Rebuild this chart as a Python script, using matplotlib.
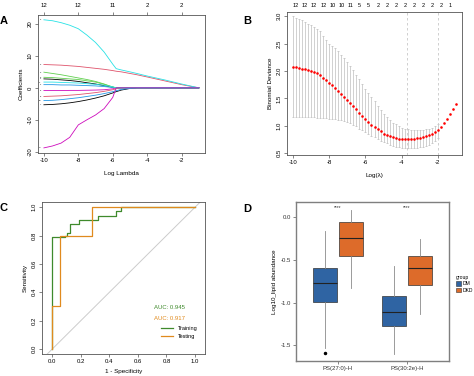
import matplotlib.pyplot as plt
import numpy as np
from matplotlib.patches import Patch

plt.rcParams['font.family'] = ['Liberation Sans', 'DejaVu Sans']
plt.rcParams['axes.unicode_minus'] = False

# ---- panel A: lasso coefficient paths ----
A_LAMBDA = [-10, -9.5, -9, -8.5, -8, -7.5, -7, -6.5, -6, -5.8, -5.5, -5, -4.6, -4, -3, -2, -1]
A_PATHS = {
    "1": [2.8, 2.7, 2.5, 2.3, 2.0, 1.6, 1.2, 0.7, 0.2, 0, 0, 0, 0, 0, 0, 0, 0],
    "2": [7.3, 7.2, 7.1, 6.9, 6.7, 6.4, 6.1, 5.8, 5.4, 5.2, 5.0, 4.5, 4.1, 3.4, 2.2, 1.0, 0.0],
    "3": [4.9, 4.5, 4.1, 3.6, 3.1, 2.6, 2.0, 1.2, 0.2, 0, 0, 0, 0, 0, 0, 0, 0],
    "4": [1.0, 1.0, 0.9, 0.9, 0.8, 0.7, 0.6, 0.4, 0.1, 0, 0, 0, 0, 0, 0, 0, 0],
    "5": [21.3, 21.0, 20.4, 19.6, 18.5, 16.5, 14.2, 11.2, 7.4, 6.0, 5.6, 5.0, 4.5, 3.7, 2.5, 1.2, 0.0],
    "6": [-0.85, -0.85, -0.85, -0.8, -0.8, -0.75, -0.7, -0.6, -0.3, 0, 0, 0, 0, 0, 0, 0, 0],
    "7": [-5.3, -5.2, -5.0, -4.7, -4.3, -3.8, -3.2, -2.5, -1.6, -1.2, -0.7, -0.2, 0, 0, 0, 0, 0],
    "8": [-2.7, -2.6, -2.5, -2.3, -2.1, -1.8, -1.5, -1.1, -0.6, -0.3, 0, 0, 0, 0, 0, 0, 0],
    "9": [3.3, 3.2, 3.0, 2.8, 2.6, 2.2, 1.8, 1.1, 0.3, 0, 0, 0, 0, 0, 0, 0, 0],
    "10": [-4.0, -3.9, -3.7, -3.4, -3.1, -2.7, -2.3, -1.8, -1.2, -0.9, -0.5, -0.15, 0, 0, 0, 0, 0],
    "11": [1.8, 1.8, 1.7, 1.6, 1.5, 1.3, 1.1, 0.8, 0.3, 0, 0, 0, 0, 0, 0, 0, 0],
    "12": [-18.8, -18.2, -17.3, -15.5, -11.6, -10.0, -8.5, -6.5, -3.0, 0, 0, 0, 0, 0, 0, 0, 0],
}
A_TOP_POS = [-10, -8, -6, -4, -2]
A_TOP_LAB = ["12", "12", "11", "2", "2"]
R_PALETTE = ["#000000", "#DF536B", "#61D04F", "#2297E6", "#28E2E5", "#CD0BBC"]

# ---- panel B: cross-validation deviance ----
B_MEAN = [2.08, 2.07, 2.05, 2.04, 2.03, 2.01, 2.00, 1.98, 1.96, 1.93, 1.88, 1.84, 1.79, 1.74,
          1.69, 1.64, 1.58, 1.53, 1.47, 1.41, 1.36, 1.30, 1.24, 1.18, 1.12, 1.07, 1.02, 0.98,
          0.94, 0.90, 0.86, 0.83, 0.81, 0.79, 0.78, 0.77, 0.765, 0.76, 0.76, 0.765, 0.77, 0.775,
          0.78, 0.795, 0.81, 0.83, 0.86, 0.89, 0.93, 0.98, 1.05, 1.13, 1.22, 1.31, 1.40]
B_UPPER = [3.00, 2.97, 2.95, 2.92, 2.89, 2.86, 2.83, 2.80, 2.77, 2.72, 2.63, 2.56, 2.50, 2.45,
           2.41, 2.36, 2.30, 2.24, 2.17, 2.09, 2.01, 1.93, 1.85, 1.76, 1.68, 1.60, 1.52, 1.45,
           1.37, 1.29, 1.22, 1.16, 1.11, 1.06, 1.03, 1.00, 0.97, 0.95, 0.94, 0.93, 0.925, 0.92,
           0.92, 0.925, 0.935, 0.95, 0.97, 1.00, 1.03, np.nan, np.nan, np.nan, np.nan, np.nan, np.nan]
B_LOWER = [1.16, 1.16, 1.16, 1.16, 1.16, 1.16, 1.16, 1.16, 1.15, 1.15, 1.14, 1.14, 1.13, 1.12,
           1.12, 1.11, 1.10, 1.09, 1.08, 1.05, 1.02, 0.99, 0.95, 0.92, 0.88, 0.85, 0.82, 0.79,
           0.76, 0.73, 0.71, 0.68, 0.66, 0.64, 0.62, 0.61, 0.60, 0.595, 0.59, 0.59, 0.59, 0.60,
           0.61, 0.62, 0.64, 0.66, 0.69, 0.73, 0.78, np.nan, np.nan, np.nan, np.nan, np.nan, np.nan]
B_LAMBDA_MIN = -3.70
B_LAMBDA_1SE = -2.0
B_TOP_LAB = ["12", "12", "12", "12", "10", "10", "11", "5", "5", "2", "2", "2", "2", "2", "2", "2", "2", "1"]

# ---- panel C: ROC ----
TRAIN_FPR = [0, 0.09, 0.10, 0.125, 0.19, 0.32, 0.45, 0.485, 1.0]
TRAIN_TPR = [0, 0.788, 0.80, 0.82, 0.88, 0.91, 0.94, 0.97, 1.0]
TEST_FPR = [0, 0.054, 0.28, 1.0]
TEST_TPR = [0, 0.30, 0.80, 1.0]
AUC_TRAIN = 0.945
AUC_TEST = 0.917

# ---- panel D: boxplots ----
FEATURES = ["PS(27:0)-H", "PS(30:2e)-H"]
GROUPS = ["DM", "DKD"]
D_Q1 = {"DM": [-0.99, -1.28], "DKD": [-0.45, -0.80]}
D_MED = {"DM": [-0.77, -1.105], "DKD": [-0.24, -0.60]}
D_Q3 = {"DM": [-0.60, -0.92], "DKD": [-0.06, -0.46]}
D_LO = {"DM": [-1.535, -1.60], "DKD": [-0.825, -1.137]}
D_HI = {"DM": [-0.16, -0.57], "DKD": [0.078, -0.258]}
D_OUT = {"DM": [[-1.594], []], "DKD": [[], []]}
D_COLORS = {"DM": "#2f64a3", "DKD": "#dd6b2a"}
D_SIG = ["****", "****"]

GREEN = "#3f8a2c"
ORANGE = "#e08a1e"

fig = plt.figure(figsize=(4.74, 3.76), dpi=100)


def rect(l, t, r, b):
    return [l / 474, 1 - b / 376, (r - l) / 474, (b - t) / 376]


def r_axes(ax):
    for s in ax.spines.values():
        s.set_color("#555555")
        s.set_linewidth(0.6)
    ax.tick_params(length=2, width=0.5, color="#555555", labelsize=4.3, pad=1.5)
    for lab in ax.get_yticklabels():
        lab.set_rotation(90)
        lab.set_va("center")


# ---------- A ----------
axA = fig.add_axes(rect(37.7, 15, 205, 153))
for i, (name, path) in enumerate(A_PATHS.items()):
    axA.plot(A_LAMBDA, path, color=R_PALETTE[i % 6], lw=0.6)
    axA.text(-10.2, path[0], name, fontsize=1.6, ha="center", va="center")
axA.set_xlim(-10.36, -0.64)
axA.set_ylim(-20.4, 22.8)
axA.set_xticks([-10, -8, -6, -4, -2])
axA.set_yticks([-20, -10, 0, 10, 20])
axA.set_xlabel("Log Lambda", fontsize=4.5, labelpad=6)
axA.set_ylabel("Coefficients", fontsize=4.5, labelpad=3)
r_axes(axA)
topA = axA.twiny()
topA.set_xlim(axA.get_xlim())
topA.set_xticks(A_TOP_POS)
topA.set_xticklabels(A_TOP_LAB)
topA.tick_params(length=2, width=0.5, color="#555555", labelsize=4.3, pad=3)
for s in topA.spines.values():
    s.set_visible(False)

# ---------- B ----------
axB = fig.add_axes(rect(286.7, 11.7, 462.3, 155))
lamB = np.linspace(-10, -1, len(B_MEAN))
mean = np.array(B_MEAN)
up = np.array(B_UPPER)
lo = np.array(B_LOWER)
ok = ~np.isnan(up)
axB.errorbar(lamB[ok], mean[ok], yerr=[mean[ok] - lo[ok], up[ok] - mean[ok]], fmt="none",
             ecolor="#bdbdbd", elinewidth=0.5, capsize=1.0, capthick=0.5)
axB.axvline(B_LAMBDA_MIN, color="#c8c8c8", lw=0.6, ls=(0, (3, 3)))
axB.axvline(B_LAMBDA_1SE, color="#c8c8c8", lw=0.6, ls=(0, (3, 3)))
axB.scatter(lamB, mean, s=3.5, color="red", lw=0, zorder=3)
axB.set_xlim(-10.36, -0.64)
axB.set_ylim(0.47, 3.08)
axB.set_xticks([-10, -8, -6, -4, -2])
axB.set_yticks([0.5, 1.0, 1.5, 2.0, 2.5, 3.0])
axB.set_xlabel("Log(\u03bb)", fontsize=4.5, labelpad=6)
axB.set_ylabel("Binomial Deviance", fontsize=4.5, labelpad=3)
r_axes(axB)
topB = axB.twiny()
topB.set_xlim(axB.get_xlim())
topB.set_xticks(np.linspace(-9.85, -1.3, len(B_TOP_LAB)))
topB.set_xticklabels(B_TOP_LAB)
topB.tick_params(length=0, labelsize=4.0, pad=3)
for s in topB.spines.values():
    s.set_visible(False)

# ---------- C ----------
axC = fig.add_axes(rect(41.7, 202, 205, 353.7))
axC.plot([-0.2, 1.2], [-0.2, 1.2], color="#cccccc", lw=0.7)
axC.plot(TRAIN_FPR, TRAIN_TPR, drawstyle="steps-pre", color=GREEN, lw=0.9)
axC.plot(TEST_FPR, TEST_TPR, drawstyle="steps-pre", color=ORANGE, lw=0.9)
axC.set_xlim(-0.074, 1.07)
axC.set_ylim(-0.033, 1.037)
axC.set_xticks([0, 0.2, 0.4, 0.6, 0.8, 1.0])
axC.set_yticks([0, 0.2, 0.4, 0.6, 0.8, 1.0])
axC.set_xticklabels(["0.0", "0.2", "0.4", "0.6", "0.8", "1.0"])
axC.set_yticklabels(["0.0", "0.2", "0.4", "0.6", "0.8", "1.0"])
axC.set_xlabel("1 - Specificity", fontsize=4.5, labelpad=4)
axC.set_ylabel("Sensitivity", fontsize=4.5, labelpad=3)
r_axes(axC)
axC.text(0.715, 0.294, "AUC: %.3f" % AUC_TRAIN, color=GREEN, fontsize=4.3, va="center")
axC.text(0.715, 0.214, "AUC: %.3f" % AUC_TEST, color=ORANGE, fontsize=4.3, va="center")
axC.legend(handles=[plt.Line2D([], [], color=GREEN, lw=0.9), plt.Line2D([], [], color=ORANGE, lw=0.9)],
           labels=["Training", "Testing"], loc="center left", bbox_to_anchor=(0.70, 0.14),
           frameon=False, fontsize=4.0, handlelength=2.2, handletextpad=0.8, labelspacing=0.4)

# ---------- D ----------
axD = fig.add_axes(rect(296.3, 202, 448.7, 361.3))
offsets = {"DM": -0.1875, "DKD": 0.1875}
for g in GROUPS:
    stats = []
    for k in range(len(FEATURES)):
        stats.append(dict(med=D_MED[g][k], q1=D_Q1[g][k], q3=D_Q3[g][k],
                          whislo=D_LO[g][k], whishi=D_HI[g][k], fliers=D_OUT[g][k]))
    pos = [k + 1 + offsets[g] for k in range(len(FEATURES))]
    axD.bxp(stats, positions=pos, widths=0.3375, patch_artist=True, showcaps=False,
            boxprops=dict(facecolor=D_COLORS[g], edgecolor="#333333", lw=0.5),
            medianprops=dict(color="#222222", lw=0.8),
            whiskerprops=dict(color="#8a8a8a", lw=0.6),
            flierprops=dict(marker="o", markersize=1.5, markerfacecolor="black",
                            markeredgecolor="black"))
for k, s in enumerate(D_SIG):
    axD.text(k + 1, 0.117, s, ha="center", va="center", fontsize=3.5, color="#333333")
axD.set_xlim(0.4, 2.6)
axD.set_ylim(-1.687, 0.176)
axD.set_xticks([1, 2])
axD.set_xticklabels(FEATURES)
axD.set_yticks([-1.5, -1.0, -0.5, 0.0])
axD.set_ylabel("Log10_lipid abundance", fontsize=4.5, labelpad=3)
for s in axD.spines.values():
    s.set_color("#7f7f7f")
    s.set_linewidth(1.0)
axD.tick_params(length=2, width=0.5, color="#555555", labelsize=4.3, pad=1.5, labelcolor="#333333")
leg = axD.legend(handles=[Patch(facecolor=D_COLORS[g], edgecolor="#333333", lw=0.4) for g in GROUPS],
                 labels=GROUPS, title="group", loc="upper left",
                 bbox_to_anchor=(451 / 474, (376 - 270) / 376), bbox_transform=fig.transFigure,
                 frameon=False, fontsize=3.6, title_fontsize=3.6, handlelength=1.0,
                 handleheight=1.0, handletextpad=0.5, labelspacing=0.3)
leg._legend_box.align = "left"

# panel letters
for lab, x, y in [("A", 4, 21), ("B", 247, 21), ("C", 3.5, 208), ("D", 247, 209)]:
    fig.text(x / 474, 1 - y / 376, lab, fontsize=8, fontweight="bold", ha="center", va="center")

fig.savefig("out.png", dpi=100)
